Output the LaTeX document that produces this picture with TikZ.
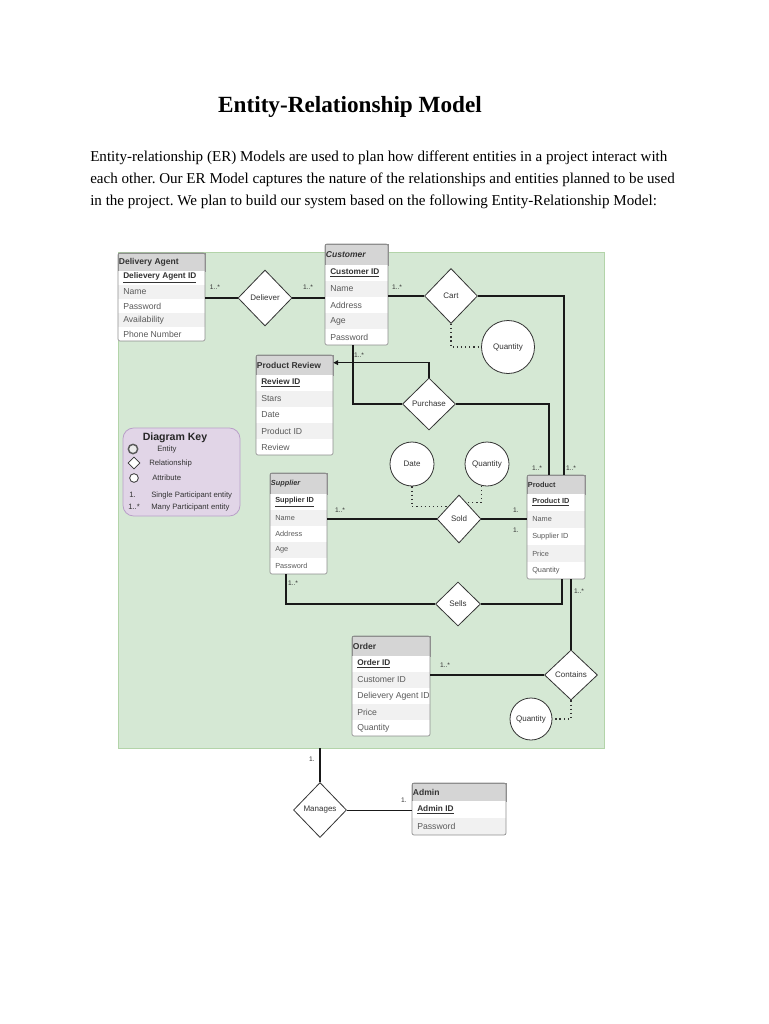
\documentclass[tikz,border=0pt]{standalone}
\usepackage{fontspec}
\setmainfont{Liberation Serif}
\newfontfamily\diagfont{Liberation Sans}
\usepackage{tikz}
\usetikzlibrary{arrows.meta,shapes.geometric,calc}
\usepackage{xcolor}
\frenchspacing

\definecolor{modelgreen}{HTML}{D5E8D4}
\definecolor{modelborder}{HTML}{B3D4A9}
\definecolor{keypurple}{HTML}{E1D5E7}
\definecolor{keyborder}{HTML}{B9A0C8}
\definecolor{headgray}{HTML}{D5D5D5}
\definecolor{rowgray}{HTML}{F1F1F1}
\definecolor{framegray}{HTML}{8E8E8E}
\definecolor{rowtext}{HTML}{5A5A5A}
\definecolor{keytext}{HTML}{333333}

% one table: name, left, top, width, header height, row height, rows, title, row texts
\newcommand{\erentity}[9]{%
  \node (#1-h) [headbox, minimum width=#4*0.75pt, minimum height=#5*0.75pt] at (#2+#4/2, #3+#5/2) {};
  \node (#1-t) [headtxt] at (#2, #3+#5/2) {#8};
  \foreach \txt [count=\i] in {#9} {
    \ifodd\i\relax \def\rowfill{white}\else \def\rowfill{rowgray}\fi
    \fill [fill=\rowfill] (#2, #3+#5+\i*#6-#6) rectangle (#2+#4, #3+#5+\i*#6);
    \ifnum\i=1
      \node (#1-\i) [keytxt] at (#2+5, #3+#5+\i*#6-#6/2) {\underline{\txt}};
    \else
      \node (#1-\i) [rowtxt] at (#2+5, #3+#5+\i*#6-#6/2) {\txt};
    \fi
  }
  \node (#1) [entframe, minimum width=#4*0.75pt, minimum height=(#5+#7*#6)*0.75pt] at (#2+#4/2, #3+#5/2+#7*#6/2) {};
}

\begin{document}
\begin{tikzpicture}[
    x=0.75pt, y=-0.75pt,
    headbox/.style={draw=framegray, fill=headgray, line width=0.4pt, inner sep=0pt},
    headtxt/.style={anchor=west, inner sep=0.5pt, text=keytext, font=\diagfont\bfseries\fontsize{6.4}{7}\selectfont},
    keytxt/.style={anchor=west, inner sep=0pt, text=keytext, font=\diagfont\bfseries\fontsize{6.2}{7}\selectfont},
    rowtxt/.style={anchor=west, inner sep=0pt, text=rowtext, font=\diagfont\fontsize{6.5}{7}\selectfont},
    entframe/.style={draw=framegray, rounded corners=1.5pt, line width=0.5pt, inner sep=0pt},
    small entity/.style={
      headtxt/.append style={font=\diagfont\bfseries\fontsize{5.5}{6}\selectfont},
      keytxt/.append style={font=\diagfont\bfseries\fontsize{5.5}{6}\selectfont},
      rowtxt/.append style={font=\diagfont\fontsize{5.5}{6}\selectfont}},
    relation/.style={diamond, draw=keytext, fill=white, line width=0.6pt, inner sep=0pt, text=keytext, font=\diagfont\fontsize{6}{7}\selectfont},
    relsize/.style 2 args={minimum width=#1*0.75pt, minimum height=#2*0.75pt},
    attrib/.style={circle, draw=keytext, fill=white, line width=0.6pt, inner sep=0pt, text=keytext, font=\diagfont\fontsize{6}{7}\selectfont},
    mult/.style={inner sep=0pt, text=keytext, font=\diagfont\fontsize{5}{6}\selectfont},
    keylabel/.style={anchor=west, inner sep=0pt, text=keytext, font=\diagfont\fontsize{5.8}{7}\selectfont},
    link/.style={draw=black!90, line width=1pt},
    dotline/.style={draw=keytext, line width=0.9pt, dash pattern=on 0.9pt off 2.2pt},
    arrow/.style={-{Triangle[length=3.5pt, width=3.5pt]}, draw=black!90, line width=0.8pt}
  ]
    \fill [white] (0,0) rectangle (768,1024);
    \useasboundingbox (0,0) rectangle (768,1024);

    % page text
    \node (title) [font=\bfseries\fontsize{17.4}{20}\selectfont] at (350,107) {Entity-Relationship Model};
    \node (para1) [anchor=west, inner sep=0pt, font=\fontsize{11.3}{13}\selectfont] at (90,158) {Entity-relationship (ER) Models are used to plan how different entities in a project interact with};
    \node (para2) [anchor=west, inner sep=0pt, font=\fontsize{11.3}{13}\selectfont] at (90,180) {each other. Our ER Model captures the nature of the relationships and entities planned to be used};
    \node (para3) [anchor=west, inner sep=0pt, font=\fontsize{11.3}{13}\selectfont] at (90,202) {in the project. We plan to build our system based on the following Entity-Relationship Model:};

    % model area
    \node (model) [draw=modelborder, fill=modelgreen, line width=0.6pt, inner sep=0pt, minimum width=486*0.75pt, minimum height=496*0.75pt] at (361,500) {};

    % entities
    \erentity{agent}{118}{253}{87}{18}{14}{5}{Delivery Agent}{Delievery Agent ID, Name, Password, Availability, Phone Number}
    \erentity{customer}{325}{244}{63}{21}{16}{5}{\itshape Customer}{Customer ID, Name, Address, Age, Password}
    \erentity{review}{256}{355}{77}{20}{16}{5}{Product Review}{Review ID, Stars, Date, Product ID, Review}
    \begin{scope}[small entity]
      \erentity{supplier}{270}{473}{57}{21}{16}{5}{\itshape Supplier}{Supplier ID, Name, Address, Age, Password}
      \erentity{product}{527}{475}{58}{19}{17}{5}{Product}{Product ID, Name, Supplier ID, Price, Quantity}
    \end{scope}
    \erentity{order}{352}{636}{78}{20}{16}{5}{Order}{Order ID, Customer ID, Delievery Agent ID, Price, Quantity}
    \erentity{admin}{412}{783}{94}{18}{17}{2}{Admin}{Admin ID, Password}

    % relationships
    \node (deliver) [relation, relsize={54}{56}] at (265,298) {Deliever};
    \node (cart) [relation, relsize={53}{55}] at (451,296) {Cart};
    \node (purchase) [relation, relsize={53}{52}] at (429,404) {Purchase};
    \node (sold) [relation, relsize={44}{48}] at (459,519) {Sold};
    \node (sells) [relation, relsize={45}{44}] at (458,604) {Sells};
    \node (contains) [relation, relsize={53}{50}] at (571,675) {Contains};
    \node (manages) [relation, relsize={53}{55}] at (320,810) {Manages};

    % attributes
    \node (qtycart) [attrib, minimum size=53*0.75pt] at (508,347) {Quantity};
    \node (date) [attrib, minimum size=44*0.75pt] at (412,464) {Date};
    \node (qtysold) [attrib, minimum size=44*0.75pt] at (487,464) {Quantity};
    \node (qtyorder) [attrib, minimum size=42*0.75pt] at (531,719) {Quantity};

    % connectors
    \draw [link] (deliver.west -| agent.east) -- (deliver.west);
    \draw [link] (deliver.east) -- (deliver.east -| customer.west);
    \draw [link] (cart.west -| customer.east) -- (cart.west);
    \draw [link] (cart.east) -| ($(product.north)+(8,0)$);
    \draw [link] ($(customer.south)+(-3.5,0)$) |- (purchase.west);
    \draw [arrow] (purchase.north) |- ($(review.north east)+(0,8)$);
    \draw [link] (purchase.east) -| ($(product.north)+(-7,0)$);
    \draw [link] (sold.west -| supplier.east) -- (sold.west);
    \draw [link] (sold.east) -- (sold.east -| product.west);
    \draw [link] ($(supplier.south)+(-12.5,0)$) |- (sells.west);
    \draw [link] (sells.east) -| ($(product.south)+(6,0)$);
    \draw [link] (contains.north |- product.south) -- (contains.north);
    \draw [link] (contains.west -| order.east) -- (contains.west);
    \draw [link] (model.south -| manages.north) -- (manages.north);
    \draw [link, line width=0.6pt] (manages.east) -- (manages.east -| admin.west);

    \draw [dotline] (cart.south) |- (qtycart.west);
    \draw [dotline] (date.south) |- ($(sold.west)!0.5!(sold.north)$);
    \draw [dotline] (qtysold.-105) |- ($(sold.north)!0.33!(sold.east)$);
    \draw [dotline] (contains.south) |- (qtyorder.east);

    % multiplicities
    \node (m1) [mult] at (215,287) {1..*};
    \node (m2) [mult] at (308,287) {1..*};
    \node (m3) [mult] at (397,287) {1..*};
    \node (m4) [mult] at (359,355) {1..*};
    \node (m5) [mult] at (340,510) {1..*};
    \node (m6) [mult] at (516,510) {1.};
    \node (m7) [mult] at (516,530) {1.};
    \node (m8) [mult] at (537,468) {1..*};
    \node (m9) [mult] at (571,468) {1..*};
    \node (m10) [mult] at (293,583) {1..*};
    \node (m11) [mult] at (579,591) {1..*};
    \node (m12) [mult] at (445,665) {1..*};
    \node (m13) [mult] at (312,759) {1.};
    \node (m14) [mult] at (404,800) {1.};

    % diagram key
    \node (key) [draw=keyborder, fill=keypurple, line width=0.6pt, rounded corners=8pt, inner sep=0pt, minimum width=117*0.75pt, minimum height=88*0.75pt] at (181.5,472) {};
    \node (keytitle) [inner sep=0pt, text=black!85, font=\diagfont\bfseries\fontsize{7.9}{9}\selectfont] at (175,438) {Diagram Key};
    \node (keyent) [circle, draw=black!65, fill=black!8, line width=1.1pt, inner sep=0pt, minimum size=7pt] at (133,449) {};
    \node (keyentl) [keylabel] at (157,449) {Entity};
    \node (keyrel) [diamond, draw=keytext, fill=white, line width=0.6pt, inner sep=0pt, minimum size=9pt] at (134,463) {};
    \node (keyrell) [keylabel] at (149,463) {Relationship};
    \node (keyatt) [circle, draw=keytext, fill=white, line width=0.6pt, inner sep=0pt, minimum size=6.5pt] at (134,478) {};
    \node (keyattl) [keylabel] at (152,478) {Attribute};
    \node (keyone) [keylabel] at (129,495) {1.};
    \node (keyonel) [keylabel] at (151,495) {Single Participant entity};
    \node (keymany) [keylabel] at (128,507) {1..*};
    \node (keymanyl) [keylabel] at (151,507) {Many Participant entity};
\end{tikzpicture}
\end{document}
